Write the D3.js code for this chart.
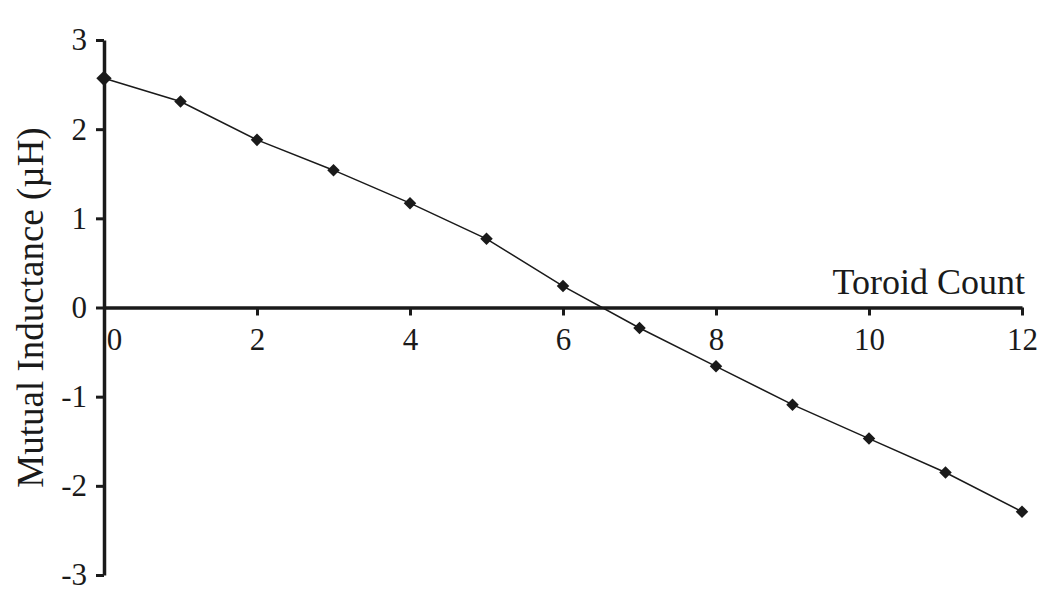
<html>
<head>
<meta charset="utf-8">
<script src="https://d3js.org/d3.v7.min.js"></script>
<style>
body {
	margin: 0;
	background: #fff;
}
svg text {
	font-family: "Liberation Serif", "Times New Roman", serif;
	fill: #1a1a1a;
}
</style>
</head>
<body>
<div id="chart"></div>
<script>
	var toroidCount = [0, 1, 2, 3, 4, 5, 6, 7, 8, 9, 10, 11, 12];
	var inductance = [2.57, 2.31, 1.88, 1.54, 1.17, 0.77, 0.24, -0.23, -0.66, -1.09, -1.47, -1.85, -2.29];
	var xTicks = [0, 2, 4, 6, 8, 10, 12];
	var yTicks = [-3, -2, -1, 0, 1, 2, 3];

	var width = 1052, height = 606;
	var margin = {top: 40, left: 104, right: 30, bottom: 31};

	var svg = d3.select("#chart")
		.append("svg")
		.attr("width", width)
		.attr("height", height);

	var x = d3.scaleLinear()
		.domain([0, 12])
		.range([margin.left, width - margin.right]);

	var y = d3.scaleLinear()
		.domain([-3, 3])
		.range([height - margin.bottom, margin.top]);

	var data = toroidCount.map((d, i) => ({x: d, y: inductance[i]}));

	// x axis crosses at zero
	var xAxis = svg.append("g")
		.attr("transform", `translate(0,${y(0)})`)
		.call(d3.axisBottom(x).tickValues(xTicks).tickFormat(d => String(d))
			.tickSize(8).tickSizeOuter(0).tickPadding(12));

	xAxis.select(".domain").attr("stroke", "#1a1a1a").attr("stroke-width", 3.5);
	xAxis.selectAll(".tick line").attr("stroke", "#1a1a1a").attr("stroke-width", 3);
	xAxis.selectAll(".tick text")
		.style("font-size", "31px")
		.attr("dx", d => d === 0 ? 10 : 0);

	var yAxis = svg.append("g")
		.attr("transform", `translate(${margin.left},0)`)
		.call(d3.axisLeft(y).tickValues(yTicks).tickFormat(d => String(d))
			.tickSize(8).tickSizeOuter(0).tickPadding(9));

	yAxis.select(".domain").attr("stroke", "#1a1a1a").attr("stroke-width", 3.5);
	yAxis.selectAll(".tick line").attr("stroke", "#1a1a1a").attr("stroke-width", 3);
	yAxis.selectAll(".tick text").style("font-size", "31px");

	svg.append("text")
		.attr("x", x(12) + 3)
		.attr("y", y(0) - 14)
		.attr("text-anchor", "end")
		.style("font-size", "36px")
		.text("Toroid Count");

	svg.append("text")
		.attr("transform", `translate(43,${y(0)}) rotate(-90)`)
		.attr("text-anchor", "middle")
		.style("font-size", "37px")
		.text("Mutual Inductance (\u00b5H)");

	var line = d3.line()
		.x(d => x(d.x))
		.y(d => y(d.y));

	svg.append("path")
		.datum(data)
		.attr("fill", "none")
		.attr("stroke", "#1a1a1a")
		.attr("stroke-width", 1.5)
		.attr("d", line);

	svg.selectAll(".marker")
		.data(data)
		.enter().append("path")
		.attr("class", "marker")
		.attr("fill", "#1a1a1a")
		.attr("d", d3.symbol().type(d3.symbolDiamond2).size(d => d.x === 0 ? 150 : 100))
		.attr("transform", d => `translate(${x(d.x)},${y(d.y)})`);
</script>
</body>
</html>
